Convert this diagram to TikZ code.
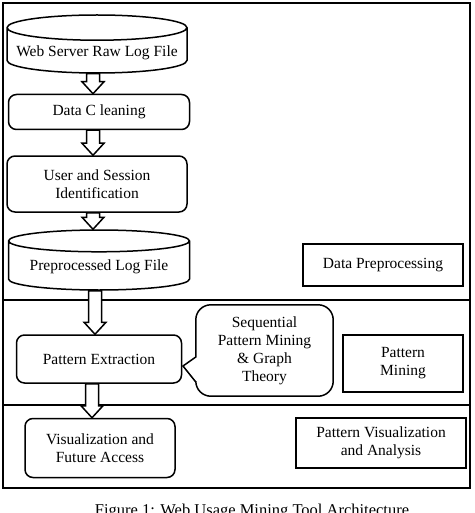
\documentclass[tikz,border=0pt]{standalone}
\usepackage{fontspec}
\setmainfont{Liberation Serif}
\usetikzlibrary{calc,positioning,shapes.geometric}
\tikzset{
  line/.style  = {line width=1.5pt},
  box/.style   = {draw, line width=1.5pt, rounded corners=8pt, align=center, inner sep=3pt},
  store/.style = {draw, line width=1.5pt, cylinder, shape border rotate=90, aspect=0.15,
    anchor=shape center, align=center},
  tag/.style   = {draw, line width=1.5pt, align=center},
  fatarrow/.style = {draw, line width=1.5pt, fill=white,
    to path={let \p1=(\tikztostart), \p2=(\tikztotarget) in
      (\x1-6.5pt,\y1) -- (\x1-6.5pt,\y2+12pt) -- (\x1-11pt,\y2+12pt) -- (\x1,\y2)
      -- (\x1+11pt,\y2+12pt) -- (\x1+6.5pt,\y2+12pt) -- (\x1+6.5pt,\y1) -- cycle}},
}
\begin{document}
\begin{tikzpicture}[x=1pt, y=-1pt, font=\fontsize{15.5}{18}\selectfont]
  \useasboundingbox (0,0) rectangle (474,513);
  % frame and layers
  \draw[line] (3,3) rectangle (470,488);
  \draw[line] (3,300) -- (470,300);
  \draw[line] (3,405) -- (470,405);
  % main flow
  \node[store, minimum width=180pt, minimum height=58pt] (web) at (97,44) {Web Server Raw Log File};
  \node[box, minimum width=181pt, minimum height=35pt] (clean) at (99,112) {Data C leaning};
  \node[box, minimum width=180pt, minimum height=56pt] (user) at (97,184) {User and Session\\Identification};
  \node[store, minimum width=181pt, minimum height=60pt] (pre) at (99,260) {Preprocessed Log File};
  \node[box, minimum width=165pt, minimum height=48pt] (extract) at (99,359) {Pattern Extraction};
  \node[box, minimum width=150pt, minimum height=59pt] (visual) at (100,448) {Visualization and\\Future Access};
  % callout
  \node[minimum width=137pt, minimum height=91pt, align=center] (seq) at (264.5,350.5) {Sequential\\Pattern Mining\\\& Graph\\Theory};
  \coordinate (tip) at (183,366);
  \draw[line] (tip) -- (seq.west |- 0,357) [rounded corners=15pt] -- (seq.north west) -- (seq.north east)
    -- (seq.south east) -- (seq.south west) [sharp corners] -- (seq.west |- 0,382) -- cycle;
  % layer labels
  \node[tag, minimum width=160pt, minimum height=42pt] (dprep) at (383,265) {Data Preprocessing};
  \node[tag, minimum width=120pt, minimum height=57pt] (pmine) at (403,363.5) {Pattern\\Mining};
  \node[tag, minimum width=170pt, minimum height=50pt] (pvis) at (381,443) {Pattern Visualization\\and Analysis};
  % arrows
  \draw[fatarrow] ([xshift=-4pt]web.south) to (clean.north);
  \draw[fatarrow] ([xshift=-6pt]clean.south) to (user.north);
  \draw[fatarrow] ([xshift=-4pt]user.south) to (pre.north);
  \draw[fatarrow] ([xshift=-4pt]pre.south) to (extract.north);
  \draw[fatarrow] ([xshift=-7pt]extract.south) to (visual.north);
  % caption
  \node[font=\fontsize{16.5}{19}\selectfont, anchor=base] (cap) at (252,515) {Figure 1: Web Usage Mining Tool Architecture};
\end{tikzpicture}
\end{document}
